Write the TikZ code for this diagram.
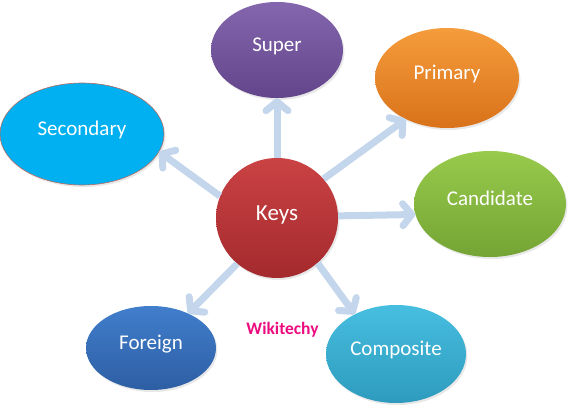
\documentclass[tikz,border=0pt]{standalone}
\usepackage{fontspec}
\setmainfont{Carlito}
\usetikzlibrary{arrows.meta,shapes.geometric,shadows}
\definecolor{superT}{HTML}{8466AE}
\definecolor{superB}{HTML}{62458A}
\definecolor{primT}{HTML}{F59C3C}
\definecolor{primB}{HTML}{D9721A}
\definecolor{secC}{HTML}{00B0F0}
\definecolor{secE}{HTML}{B86A62}
\definecolor{candT}{HTML}{98CA4C}
\definecolor{candB}{HTML}{74A434}
\definecolor{keysT}{HTML}{CA4244}
\definecolor{keysB}{HTML}{A42A2D}
\definecolor{forT}{HTML}{417ECC}
\definecolor{forB}{HTML}{2D5EA3}
\definecolor{compT}{HTML}{47BEE0}
\definecolor{compB}{HTML}{2E9BBD}
\definecolor{arrowC}{HTML}{C4D6EC}
\definecolor{wiki}{HTML}{EC0C80}
\begin{document}
\begin{tikzpicture}[x=1pt,y=-1pt,
  bub/.style={ellipse, inner sep=0pt, text=white,
    font=\fontsize{21}{25}\selectfont, text height=14pt, text depth=11pt,
    drop shadow={opacity=0.18, shadow xshift=1.5pt, shadow yshift=-2pt}},
  arr/.style={draw=arrowC, line width=7pt,
    -{Straight Barb[length=9pt,width=22pt,round]}}
]
\useasboundingbox (0,0) rectangle (568,411);
\node[bub, minimum width=132pt, minimum height=96pt, top color=superT, bottom color=superB] (super) at (277,50) {Super};
\node[bub, minimum width=144pt, minimum height=100pt, top color=primT, bottom color=primB] (primary) at (447,78) {Primary};
\node[bub, minimum width=164pt, minimum height=102pt, fill=secC, draw=secE, line width=0.6pt] (secondary) at (82,134) {Secondary};
\node[bub, minimum width=152pt, minimum height=106pt, top color=candT, bottom color=candB] (candidate) at (490,204) {Candidate};
\node[bub, minimum width=130pt, minimum height=84pt, top color=forT, bottom color=forB] (foreign) at (151,348) {Foreign};
\node[bub, minimum width=140pt, minimum height=98pt, top color=compT, bottom color=compB] (composite) at (396,354) {Composite};
\node[bub, minimum width=122pt, minimum height=120pt, top color=keysT, bottom color=keysB,
  font=\fontsize{23}{27}\selectfont, text height=15pt, text depth=10pt] (keys) at (277,218) {Keys};
\node[anchor=base, text=wiki, font=\fontsize{17.5}{20}\selectfont\bfseries] (wikitechy) at (282.5,335) {Wikitechy};
\draw[arr] (keys.90) -- (super.270);
\draw[arr] (keys.40) -- (primary.225);
\draw[arr] (keys.159) -- (secondary.347);
\draw[arr] (keys.2) -- (candidate.188);
\draw[arr] (keys.229) -- (foreign.43);
\draw[arr] (keys.312) -- (composite.136);
\end{tikzpicture}
\end{document}
